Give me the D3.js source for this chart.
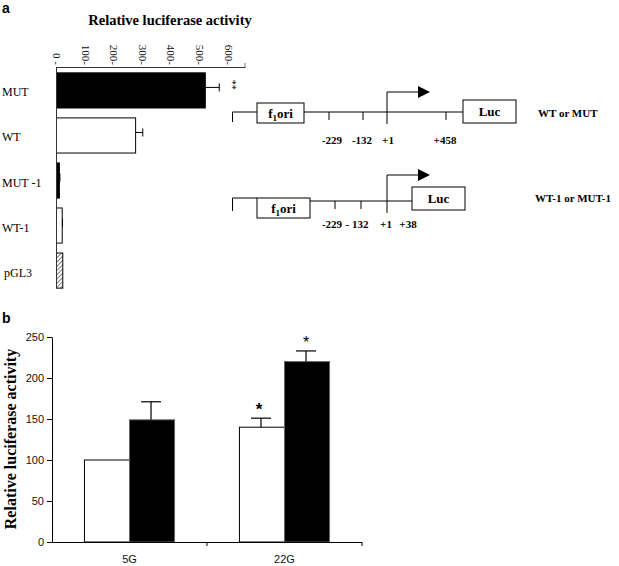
<!DOCTYPE html>
<html>
<head>
<meta charset="utf-8">
<script src="https://cdn.jsdelivr.net/npm/d3@7"></script>
<style>
  body { margin: 0; background: #fff; }
  svg { display: block; }
</style>
</head>
<body>
<div id="chart"></div>
<script>
// panel a: luciferase activity of the promoter constructs
var constructs = ["MUT", "WT", "MUT -1", "WT-1", "pGL3"];
var activityA = [521, 277, 10, 20, 22];
var errorA = [49, 25, 2, 1, 0];
var ticksA = [0, 100, 200, 300, 400, 500, 600];

// panel b: glucose 5G / 22G, white vs black bars
var glucose = ["5G", "22G"];
var whiteVals = [100, 140];
var whiteErr = [0, 11];
var blackVals = [149, 220];
var blackErr = [22, 13];
var ticksB = [0, 50, 100, 150, 200, 250];

// promoter map labels
var sitesLong = ["-229", "-132", "+1", "+458"];
var sitesShort = ["-229", "- 132", "+1", "+38"];

var width = 619, height = 566;
var serif = "'Liberation Serif', 'Times New Roman', serif";
var sans = "'Liberation Sans', Arial, sans-serif";

var svg = d3.select("#chart").append("svg")
  .attr("width", width)
  .attr("height", height);

var defs = svg.append("defs");
var hatch = defs.append("pattern")
  .attr("id", "hatch")
  .attr("patternUnits", "userSpaceOnUse")
  .attr("width", 3)
  .attr("height", 3)
  .attr("patternTransform", "rotate(45)");
hatch.append("rect").attr("width", 3).attr("height", 3).attr("fill", "#fff");
hatch.append("line")
  .attr("x1", 0).attr("y1", 0).attr("x2", 0).attr("y2", 3)
  .attr("stroke", "#444").attr("stroke-width", 1.4);

// ---------- panel a ----------
svg.append("text").text("a")
  .attr("x", 2).attr("y", 13)
  .attr("font-family", sans).attr("font-weight", "bold").attr("font-size", 14);

svg.append("text").text("Relative luciferase activity")
  .attr("x", 170).attr("y", 25)
  .attr("text-anchor", "middle")
  .attr("font-family", serif).attr("font-weight", "bold").attr("font-size", 14.5);

var xA = d3.scaleLinear().domain([0, 660]).range([56.5, 245]);
var yA = d3.scaleBand().domain(constructs).range([67, 294])
  .paddingInner(0.22).paddingOuter(0.13);
var fillA = d3.scaleOrdinal().domain(constructs)
  .range(["#000", "#fff", "#000", "#fff", "url(#hatch)"]);

var gA = svg.append("g");

var axisA = d3.axisTop(xA)
  .tickValues(ticksA)
  .tickSize(0)
  .tickSizeOuter(0)
  .tickFormat(function (d) { return d === 0 ? "0 -" : d + "-"; });

var axA = gA.append("g")
  .attr("transform", "translate(0,67)")
  .call(axisA);
axA.select(".domain").attr("stroke", "#333");
axA.selectAll("text")
  .attr("font-family", serif)
  .attr("font-size", 11)
  .attr("fill", "#111")
  .attr("text-anchor", "end")
  .attr("y", 0)
  .attr("dy", "0.35em")
  .attr("transform", "translate(0,-2) rotate(90)");
gA.append("line")
  .attr("x1", xA.range()[1]).attr("x2", xA.range()[1])
  .attr("y1", 67).attr("y2", 63)
  .attr("stroke", "#777");

gA.selectAll("rect.bar")
  .data(constructs)
  .enter().append("rect")
  .attr("class", "bar")
  .attr("x", xA(0))
  .attr("y", function (d) { return yA(d); })
  .attr("width", function (d, i) { return xA(activityA[i]) - xA(0); })
  .attr("height", yA.bandwidth())
  .attr("fill", function (d) { return fillA(d); })
  .attr("stroke", "#000")
  .attr("stroke-width", 1);

// vertical axis line along the bar bases
gA.append("line")
  .attr("x1", xA(0)).attr("x2", xA(0))
  .attr("y1", 67).attr("y2", yA("pGL3") + yA.bandwidth())
  .attr("stroke", "#333");

var errA = gA.selectAll("g.err")
  .data(constructs)
  .enter().append("g")
  .attr("class", "err")
  .filter(function (d, i) { return errorA[i] > 0; });
errA.append("line")
  .attr("x1", function (d) { var i = constructs.indexOf(d); return xA(activityA[i]); })
  .attr("x2", function (d) { var i = constructs.indexOf(d); return xA(activityA[i] + errorA[i]); })
  .attr("y1", function (d) { return yA(d) + yA.bandwidth() / 2 - 3; })
  .attr("y2", function (d) { return yA(d) + yA.bandwidth() / 2 - 3; })
  .attr("stroke", "#000");
errA.append("line")
  .attr("x1", function (d) { var i = constructs.indexOf(d); return xA(activityA[i] + errorA[i]); })
  .attr("x2", function (d) { var i = constructs.indexOf(d); return xA(activityA[i] + errorA[i]); })
  .attr("y1", function (d) { return yA(d) + yA.bandwidth() / 2 - 7; })
  .attr("y2", function (d) { return yA(d) + yA.bandwidth() / 2 + 1; })
  .attr("stroke", "#000");

gA.append("text").text("**")
  .attr("transform", "translate(" + (xA(activityA[0] + errorA[0]) + 10) + "," + (yA("MUT") + 12) + ") rotate(90)")
  .attr("font-family", serif).attr("font-size", 10)
  .attr("text-anchor", "middle");

gA.selectAll("text.cat")
  .data(constructs)
  .enter().append("text")
  .attr("class", "cat")
  .text(function (d) { return d; })
  .attr("x", function (d) { return d === "pGL3" ? 4 : 2; })
  .attr("y", function (d) { return yA(d) + yA.bandwidth() / 2 + 6; })
  .attr("font-family", serif)
  .attr("font-size", 12);

// ---------- promoter maps ----------
function drawConstruct(g, opt) {
  var ly = opt.lineY;
  g.append("path")
    .attr("d", "M" + opt.x0 + "," + (ly + 10) + "V" + opt.leftY + "H" + opt.boxX0)
    .attr("fill", "none").attr("stroke", "#000");
  g.append("line")
    .attr("x1", opt.boxX1).attr("x2", opt.lucX0)
    .attr("y1", ly).attr("y2", ly)
    .attr("stroke", "#000");
  g.append("rect")
    .attr("x", opt.boxX0).attr("y", opt.boxY)
    .attr("width", opt.boxX1 - opt.boxX0).attr("height", 20)
    .attr("fill", "#fff").attr("stroke", "#000");
  var ori = g.append("text")
    .attr("x", (opt.boxX0 + opt.boxX1) / 2).attr("y", opt.boxY + 15)
    .attr("text-anchor", "middle")
    .attr("font-family", serif).attr("font-weight", "bold").attr("font-size", 13);
  ori.append("tspan").text("f");
  ori.append("tspan").text("1").attr("font-size", 9).attr("dy", 3);
  ori.append("tspan").text("ori").attr("dy", -3);
  g.append("rect")
    .attr("x", opt.lucX0).attr("y", opt.lucY)
    .attr("width", opt.lucX1 - opt.lucX0).attr("height", 23)
    .attr("fill", "#fff").attr("stroke", "#000");
  g.append("text").text("Luc")
    .attr("x", (opt.lucX0 + opt.lucX1) / 2).attr("y", opt.lucY + 16)
    .attr("text-anchor", "middle")
    .attr("font-family", serif).attr("font-weight", "bold").attr("font-size", 13);
  // small site ticks
  opt.ticks.forEach(function (tx) {
    g.append("line")
      .attr("x1", tx).attr("x2", tx)
      .attr("y1", ly).attr("y2", ly + 8)
      .attr("stroke", "#000");
  });
  // transcription start with arrow
  g.append("path")
    .attr("d", "M" + opt.startX + "," + (ly + 12) + "V" + opt.arrowY + "H" + (opt.startX + 32))
    .attr("fill", "none").attr("stroke", "#000");
  g.append("path")
    .attr("d", "M" + (opt.startX + 31) + "," + (opt.arrowY - 6) + "L" + (opt.startX + 43) + "," + opt.arrowY +
      "L" + (opt.startX + 31) + "," + (opt.arrowY + 6) + "Z")
    .attr("fill", "#000");
  g.selectAll("text.site")
    .data(opt.labels)
    .enter().append("text")
    .attr("class", "site")
    .text(function (d) { return d; })
    .attr("x", function (d, i) { return opt.labelX[i]; })
    .attr("y", opt.labelY)
    .attr("text-anchor", "middle")
    .attr("font-family", serif).attr("font-weight", "bold").attr("font-size", 11);
  g.append("text").text(opt.name)
    .attr("x", opt.nameX).attr("y", opt.nameY)
    .attr("font-family", serif).attr("font-weight", "bold").attr("font-size", 11);
}

drawConstruct(svg.append("g"), {
  x0: 232.5, lineY: 112, leftY: 112, boxX0: 257, boxX1: 304, boxY: 103,
  lucX0: 463, lucX1: 516, lucY: 100,
  ticks: [329, 363, 446], startX: 387, arrowY: 92,
  labels: sitesLong, labelX: [332, 362, 388, 445], labelY: 144,
  name: "WT or MUT", nameX: 538, nameY: 117
});

drawConstruct(svg.append("g"), {
  x0: 232.5, lineY: 201, leftY: 198, boxX0: 257, boxX1: 310, boxY: 198,
  lucX0: 412, lucX1: 465, lucY: 187,
  ticks: [335, 361], startX: 387, arrowY: 175,
  labels: sitesShort, labelX: [332, 357, 386, 408], labelY: 228,
  name: "WT-1 or MUT-1", nameX: 535, nameY: 202
});

// ---------- panel b ----------
svg.append("text").text("b")
  .attr("x", 2).attr("y", 323)
  .attr("font-family", sans).attr("font-weight", "bold").attr("font-size", 14);

var xB = d3.scaleBand().domain(glucose).range([52, 362]).paddingInner(0).paddingOuter(0);
var subB = d3.scaleBand().domain(["white", "black"]).range([0, xB.bandwidth()])
  .paddingInner(0).paddingOuter(0.72);
var yB = d3.scaleLinear().domain([0, 250]).range([542, 337]);

var gB = svg.append("g");

var rows = glucose.map(function (g, i) {
  return [
    { grp: g, key: "white", v: whiteVals[i], e: whiteErr[i] },
    { grp: g, key: "black", v: blackVals[i], e: blackErr[i] }
  ];
});
var flat = [].concat.apply([], rows);

gB.selectAll("rect.barb")
  .data(flat)
  .enter().append("rect")
  .attr("class", "barb")
  .attr("x", function (d) { return xB(d.grp) + subB(d.key); })
  .attr("y", function (d) { return yB(d.v); })
  .attr("width", subB.bandwidth())
  .attr("height", function (d) { return yB(0) - yB(d.v); })
  .attr("fill", function (d) { return d.key === "white" ? "#fff" : "#000"; })
  .attr("stroke", function (d) { return d.key === "white" ? "#000" : "#666"; })
  .attr("stroke-width", 1);

var errB = gB.selectAll("g.errb")
  .data(flat.filter(function (d) { return d.e > 0; }))
  .enter().append("g")
  .attr("class", "errb")
  .attr("transform", function (d) {
    return "translate(" + (xB(d.grp) + subB(d.key) + subB.bandwidth() / 2 - 1) + ",0)";
  });
errB.append("line")
  .attr("x1", 0).attr("x2", 0)
  .attr("y1", function (d) { return yB(d.v); })
  .attr("y2", function (d) { return yB(d.v + d.e); })
  .attr("stroke", "#000").attr("stroke-width", 1.2);
errB.append("line")
  .attr("x1", -10).attr("x2", 10)
  .attr("y1", function (d) { return yB(d.v + d.e); })
  .attr("y2", function (d) { return yB(d.v + d.e); })
  .attr("stroke", "#000").attr("stroke-width", 1.2);

// significance stars over the 22G bars
gB.append("text").text("*")
  .attr("x", xB("22G") + subB("white") + subB.bandwidth() / 2 - 3)
  .attr("y", yB(whiteVals[1] + whiteErr[1]) - 3)
  .attr("text-anchor", "middle")
  .attr("font-family", sans).attr("font-weight", "bold").attr("font-size", 17);
gB.append("text").text("*")
  .attr("x", xB("22G") + subB("black") + subB.bandwidth() / 2 - 1)
  .attr("y", yB(blackVals[1] + blackErr[1]) - 3)
  .attr("text-anchor", "middle")
  .attr("font-family", sans).attr("font-size", 16);

var axYB = gB.append("g")
  .attr("transform", "translate(52,0)")
  .call(d3.axisLeft(yB).tickValues(ticksB).tickSize(5).tickSizeOuter(0).tickPadding(3));
axYB.selectAll("text").attr("font-family", sans).attr("font-size", 11).attr("fill", "#111");
axYB.selectAll("line, path").attr("stroke", "#000");

var axXB = gB.append("g")
  .attr("transform", "translate(0,542)")
  .call(d3.axisBottom(xB).tickSize(0).tickSizeOuter(0).tickPadding(13));
axXB.select(".domain").attr("stroke", "#000").attr("d", "M50,0.5H" + xB.range()[1]);
axXB.selectAll("text").attr("font-family", sans).attr("font-size", 11).attr("fill", "#111");
axXB.selectAll("line.bound")
  .data(glucose)
  .enter().append("line")
  .attr("class", "bound")
  .attr("x1", function (d) { return xB(d) + xB.bandwidth(); })
  .attr("x2", function (d) { return xB(d) + xB.bandwidth(); })
  .attr("y1", 0).attr("y2", 4)
  .attr("stroke", "#000");

svg.append("text").text("Relative luciferase activity")
  .attr("transform", "translate(16,439) rotate(-90)")
  .attr("text-anchor", "middle")
  .attr("font-family", serif).attr("font-weight", "bold").attr("font-size", 16);
</script>
</body>
</html>
